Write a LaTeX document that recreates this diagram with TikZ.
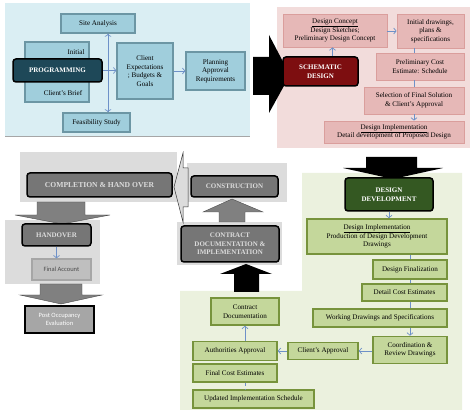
\documentclass[tikz,border=0pt]{standalone}
\usepackage{fontspec}
\setmainfont{Liberation Serif}
\newfontfamily\calib{Carlito}
\usetikzlibrary{arrows.meta}

\definecolor{bluepanel}{RGB}{218,238,243}
\definecolor{bluefill}{RGB}{160,206,220}
\definecolor{blueline}{RGB}{108,150,164}
\definecolor{progfill}{RGB}{30,72,88}
\definecolor{pinkpanel}{RGB}{242,220,219}
\definecolor{pinkfill}{RGB}{230,184,183}
\definecolor{pinkline}{RGB}{218,158,156}
\definecolor{schemfill}{RGB}{125,14,16}
\definecolor{greenpanel}{RGB}{235,241,222}
\definecolor{greenfill}{RGB}{196,215,155}
\definecolor{greenline}{RGB}{119,147,60}
\definecolor{devfill}{RGB}{52,88,34}
\definecolor{greypanel}{RGB}{220,220,220}
\definecolor{greyhead}{RGB}{118,118,118}
\definecolor{greyarrow}{RGB}{128,128,128}
\definecolor{arrowblue}{RGB}{110,145,200}

\begin{document}
\begin{tikzpicture}[x=1pt, y=-1pt,
  every node/.style={inner sep=0pt, align=center, font=\fontsize{7.1}{8.6}\selectfont},
  sz/.style 2 args={minimum width=#1pt, minimum height=#2pt},
  bluebox/.style={draw=blueline, fill=bluefill, line width=1.3pt},
  pinkbox/.style={draw=pinkline, fill=pinkfill, line width=0.8pt},
  greenbox/.style={draw=greenline, fill=greenfill, line width=1.6pt},
  headbox/.style={draw=black, line width=1.5pt, rounded corners=3pt, text=white,
    font=\fontsize{7}{8.5}\selectfont\bfseries},
  greyhead/.style={headbox, fill=greyhead, text=greypanel},
  flow/.style={draw=arrowblue, line width=0.7pt, -{Straight Barb[length=2.5pt,width=6pt]}},
  link/.style={draw=arrowblue, line width=0.6pt},
  bigarrow/.style={fill=greyarrow, draw=black!70, line width=0.4pt}
]
\useasboundingbox (0,0) rectangle (474,419);

% Panels
\fill[bluepanel] (5,3) rectangle (250,136);
\draw[black!35, line width=0.8pt] (5,136) -- (250,136);
\fill[pinkpanel] (277,7) rectangle (470,148);
\fill[greenpanel] (302,173) -- (462,173) -- (462,410) -- (180,410) -- (180,291) -- (302,291) -- cycle;
\fill[greypanel] (187,163) rectangle (287,202);
\fill[greypanel] (20,152) rectangle (177,202);
\fill[greypanel] (5,220) rectangle (100,284);
\fill[greypanel] (177,222) rectangle (282,265);

% Block arrows
\fill[black] (253,57) -- (269,57) -- (269,35) -- (290,75) -- (269,113) -- (269,95) -- (253,95) -- cycle;
\fill[black] (366,157) -- (417,157) -- (417,168) -- (443,168) -- (393,179) -- (343,168) -- (366,168) -- cycle;
\fill[black] (234,292) -- (234,274) -- (220,274) -- (246,264) -- (272,274) -- (259,274) -- (259,292) -- cycle;
\filldraw[bigarrow] (37,202) -- (85,202) -- (85,215) -- (110,215) -- (62,224) -- (15,215) -- (37,215) -- cycle;
\filldraw[bigarrow] (40,284) -- (82,284) -- (82,295) -- (102,295) -- (61,304) -- (20,295) -- (40,295) -- cycle;
\filldraw[bigarrow] (219,222) -- (219,212) -- (203,212) -- (232,199) -- (263,212) -- (245,212) -- (245,222) -- cycle;
\filldraw[fill=greypanel, draw=black!80, line width=0.5pt] (188,168) -- (183,168) -- (183,153) -- (174,187) -- (183,222) -- (183,207) -- (188,207) -- cycle;

% Programming
\node[bluebox, sz={74}{19}] (site) at (98,23.5) {Site Analysis};
\node[bluebox, sz={64}{60}] (brief) at (57,72) {};
\node (initial) at (76,52) {Initial};
\node (cbrief) at (63,93) {Client’s Brief};
\node[headbox, fill=progfill, sz={89}{23}] (prog) at (57.5,70.5) {PROGRAMMING};
\node[bluebox, sz={56}{56}] (expect) at (145,71) {Client\\Expectations\\; Budgets \&\\Goals};
\node[bluebox, sz={59}{38}] (plan) at (215.5,71) {Planning\\Approval\\Requirements};
\node[bluebox, sz={67}{19}] (feas) at (96.5,122.5) {Feasibility Study};

% Schematic design
\node[pinkbox, sz={104}{33}] (concept) at (335,30.5) {\underline{Design Concept}\\Design Sketches;\\Preliminary Design Concept};
\node[pinkbox, sz={67}{34}] (initdraw) at (430.5,31) {Initial drawings,\\plans \&\\specifications};
\node[headbox, fill=schemfill, sz={75}{29}] (schem) at (320.5,71.5) {SCHEMATIC\\DESIGN};
\node[pinkbox, sz={88}{27}] (prelim) at (420,66.5) {Preliminary Cost\\Estimate: Schedule};
\node[pinkbox, sz={100}{27}] (select) at (414,100.5) {Selection of Final Solution\\\& Client’s Approval};
\node[pinkbox, sz={140}{22}] (pimpl) at (394,132) {\underline{Design Implementation}\\Detail development of Proposed Design};

% Design development
\node[headbox, fill=devfill, sz={88}{33}] (dev) at (389,194.5) {DESIGN\\DEVELOPMENT};
\node[greenbox, sz={140}{35}] (gimpl) at (377,236.5) {\underline{Design Implementation}\\Production of Design Development\\Drawings};
\node[greenbox, sz={74}{19}] (final) at (410,269.5) {Design Finalization};
\node[greenbox, sz={85}{17}] (detail) at (404.5,292.5) {Detail Cost Estimates};
\node[greenbox, sz={134}{18}] (working) at (380,318) {Working Drawings and Specifications};
\node[greenbox, sz={74}{27}] (coord) at (410,350) {Coordination \&\\Review Drawings};
\node[greenbox, sz={70}{17}] (clientap) at (323,351) {Client’s Approval};
\node[greenbox, sz={84}{19}] (auth) at (235,351) {Authorities Approval};
\node[greenbox, sz={68}{27}] (contract) at (245,311.5) {Contract\\Documentation};
\node[greenbox, sz={84}{18}] (fcost) at (235,373) {Final Cost Estimates};
\node[greenbox, sz={121}{18}] (updated) at (253.5,399) {Updated Implementation Schedule};

% Construction and hand over
\node[greyhead, sz={87}{21}] (constr) at (234.5,186.5) {CONSTRUCTION};
\node[greyhead, sz={98}{36}] (contdoc) at (230,244) {CONTRACT\\DOCUMENTATION \&\\IMPLEMENTATION};
\node[greyhead, sz={145}{24}, font=\fontsize{7.6}{9}\selectfont\bfseries] (compl) at (99.5,185) {COMPLETION \& HAND OVER};
\node[greyhead, sz={69}{22}] (handover) at (56.5,235) {HANDOVER};
\node[draw=black!35, fill=black!25, line width=1.3pt, text=black!70, sz={59}{21},
  font=\fontsize{6.5}{7.5}\selectfont\calib] (finacc) at (61.5,269.5) {Final Account};
\node[draw=black, fill=black!35, line width=1.5pt, text=white, sz={69}{27},
  font=\fontsize{6.5}{7.5}\selectfont\calib] (post) at (59.5,319.5) {Post Occupancy\\Evaluation};

%Lines
\draw[flow, <->] ([xshift=10pt]site.south) -- ([xshift=10pt]site.south |- feas.north);
\draw[flow] (prog.east) -- (prog.east -| expect.west);
\draw[flow] (expect.east) -- (plan.west);
\draw[flow] (concept.east |- initdraw) -- (initdraw.west);
\draw[flow] ([xshift=12pt]schem.north) -- ([xshift=12pt]schem.north |- concept.south);
\draw[link] (initdraw.south -| select.north) -- (prelim.north -| select.north);
\draw[link] (prelim.south -| select.north) -- (select.north);
\draw[flow] (select.south) -- (select.south |- pimpl.north);
\draw[flow] (dev.south) -- (dev.south |- gimpl.north);
\draw[link] (gimpl.south -| final.north) -- (final.north);
\draw[link] (final.south) -- (final.south |- detail.north);
\draw[link] (detail.south -| final.south) -- (working.north -| final.south);
\draw[flow] (working.south -| coord.north) -- (coord.north);
\draw[flow] (coord.west |- clientap) -- (clientap.east);
\draw[flow] (clientap.west) -- (clientap.west -| auth.east);
\draw[flow] (auth.north -| contract.south) -- (contract.south);
\draw[link, dashed] (fcost.south -| contract.south) -- (updated.north -| contract.south);
\draw[flow] (handover.south) -- (handover.south |- finacc.north);
\end{tikzpicture}
\end{document}
